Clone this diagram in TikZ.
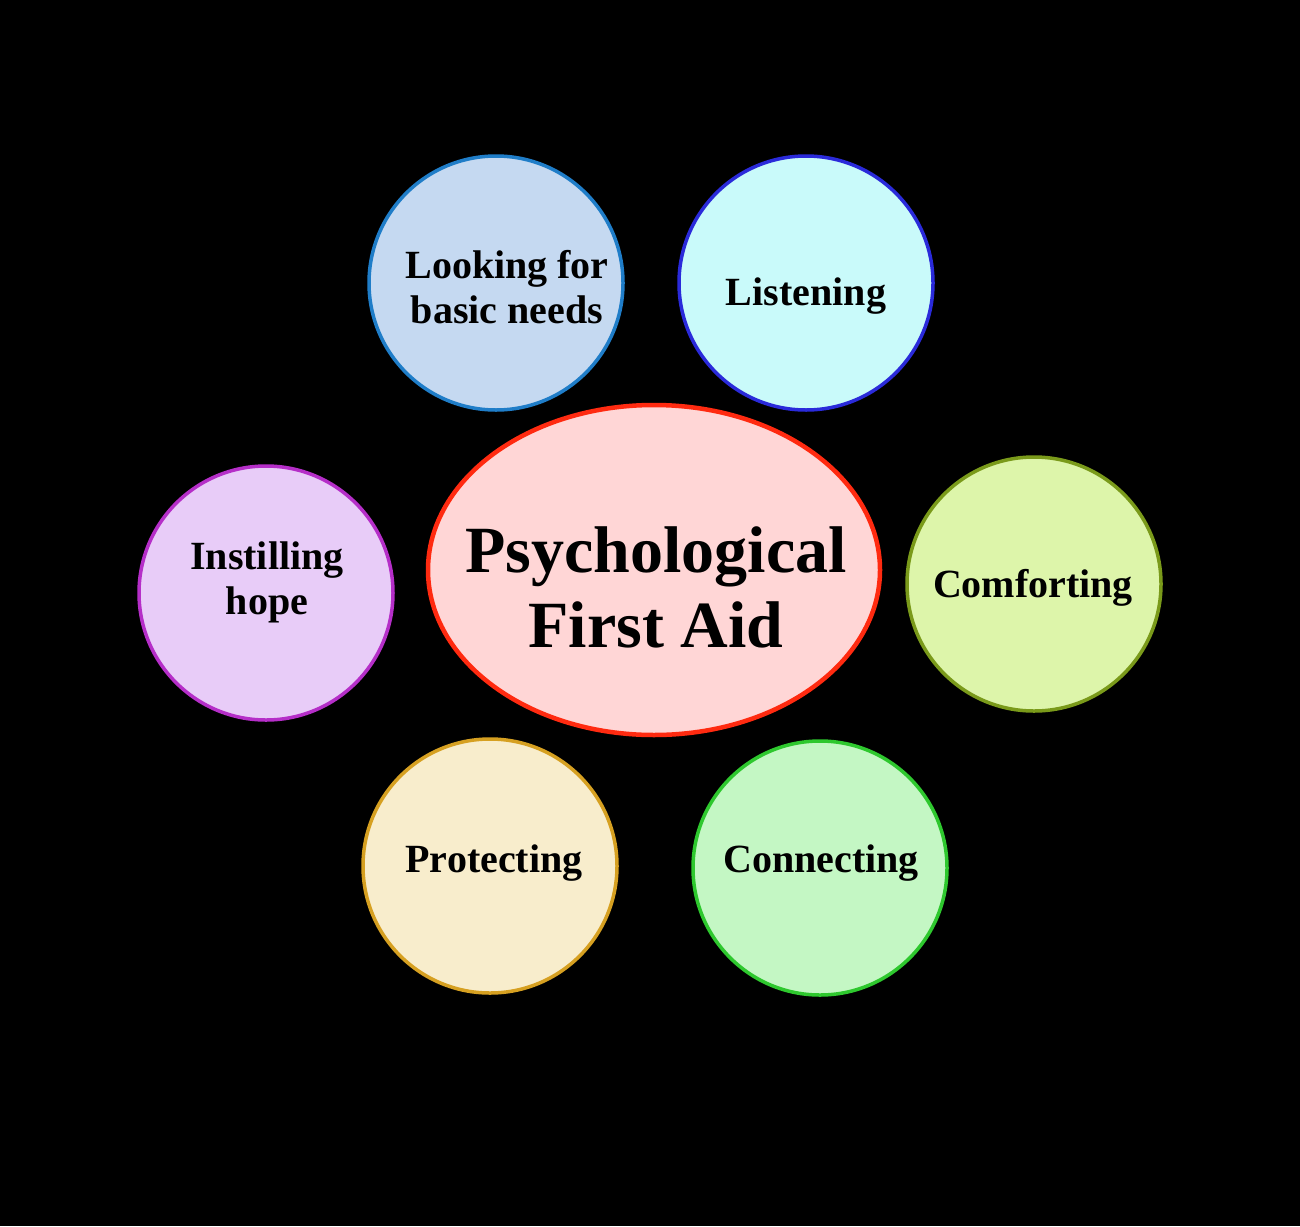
\documentclass[tikz,border=0pt]{standalone}
\usepackage{fontspec}
\setmainfont{Liberation Serif}
\usetikzlibrary{shapes.geometric}
\definecolor{bgc}{HTML}{000000}
\definecolor{lookF}{HTML}{C5D9F1}\definecolor{lookD}{HTML}{1F7DC8}
\definecolor{listF}{HTML}{C9FAFA}\definecolor{listD}{HTML}{2A2ADA}
\definecolor{centF}{HTML}{FFD6D6}\definecolor{centD}{HTML}{FF2A10}
\definecolor{comfF}{HTML}{DDF5AA}\definecolor{comfD}{HTML}{7A9A1A}
\definecolor{instF}{HTML}{E8CCF8}\definecolor{instD}{HTML}{B52EC8}
\definecolor{protF}{HTML}{F8EDCC}\definecolor{protD}{HTML}{D6A021}
\definecolor{connF}{HTML}{C4F7C4}\definecolor{connD}{HTML}{2EC82E}
\tikzset{
  bubble/.style={circle, minimum size=254pt, inner sep=0pt, line width=3.5pt},
  lbl/.style={anchor=base, inner sep=0pt, align=center, text=black,
    font=\fontsize{40}{45}\selectfont\bfseries},
  ttl/.style={anchor=base, inner sep=0pt, align=center, text=black,
    font=\fontsize{66}{75}\selectfont\bfseries}
}
\begin{document}
\begin{tikzpicture}[x=1pt,y=-1pt]
\fill[bgc] (0,0) rectangle (1300,1226);
\useasboundingbox (0,0) rectangle (1300,1226);
% central ellipse
\node[ellipse, minimum width=452pt, minimum height=330pt, inner sep=0pt,
  draw=centD, fill=centF, line width=4.5pt] (center) at (654,570) {};
% satellites
\node[bubble, draw=lookD, fill=lookF] (looking) at (496,283) {};
\node[bubble, draw=listD, fill=listF] (listening) at (806,283) {};
\node[bubble, draw=comfD, fill=comfF] (comforting) at (1034,584) {};
\node[bubble, draw=connD, fill=connF] (connecting) at (820,868) {};
\node[bubble, draw=protD, fill=protF] (protecting) at (490,866) {};
\node[bubble, draw=instD, fill=instF] (instilling) at (266,593) {};
% labels (base anchor = baseline of last line)
\node[ttl] (centerT) at (656,647) {Psychological\\First Aid};
\node[lbl] (lookingT) at (507,323) {Looking for\\basic needs};
\node[lbl] (listeningT) at (806,305) {Listening};
\node[lbl] (comfortingT) at (1033,597) {Comforting};
\node[lbl] (connectingT) at (821,872) {Connecting};
\node[lbl] (protectingT) at (494,872) {Protecting};
\node[lbl] (instillingT) at (267,614) {Instilling\\hope};
\end{tikzpicture}
\end{document}
